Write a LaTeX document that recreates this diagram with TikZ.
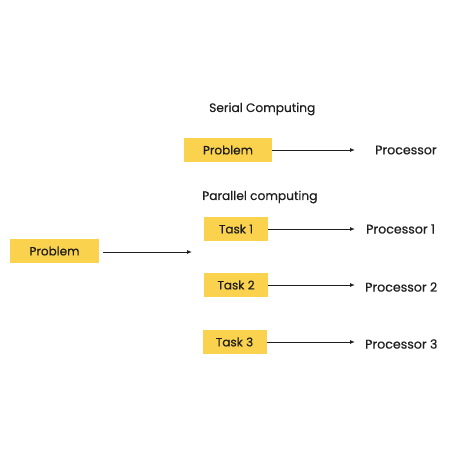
\documentclass[tikz,border=0pt]{standalone}
\usepackage{fontspec}
\setmainfont{Poppins}[FakeBold=0.5]
\usetikzlibrary{arrows.meta}
\definecolor{boxyellow}{HTML}{FBD24E}
\definecolor{inkgray}{HTML}{1E1E1E}
\tikzset{
    taskbox/.style={fill=boxyellow, text=inkgray, font=\fontsize{12}{14}\selectfont,
        minimum height=24pt, inner sep=0pt},
    proclabel/.style={text=inkgray, font=\fontsize{12.6}{14}\selectfont, anchor=west, inner sep=0pt},
    headlabel/.style={text=inkgray, font=\fontsize{12.2}{14}\selectfont, anchor=west, inner sep=0pt},
    flow/.style={-{Latex[length=5pt,width=4pt]}, line width=1pt, inkgray}
}
\begin{document}
\begin{tikzpicture}[x=1pt, y=-1pt]
    \useasboundingbox (0,0) rectangle (474,474);

    % Serial computing
    \node[headlabel] (serialhead) at (209,109) {Serial Computing};
    \node[taskbox, minimum width=88pt] (sprob) at (228,150) {Problem};
    \node[proclabel] (sproc) at (375,150) {Processor};
    \draw[flow, shorten >=20pt] (sprob) -- (sproc);

    % Parallel computing
    \node[headlabel] (parhead) at (202,197) {Parallel computing};
    \node[taskbox, minimum width=89pt] (pprob) at (54.5,251) {Problem};
    \coordinate (split) at (192,252);
    \draw[flow, shorten <=4pt] (pprob.east |- split) -- (split);

    \node[taskbox, minimum width=64pt] (task1) at (236,229) {Task 1};
    \node[taskbox, minimum width=64pt] (task2) at (236,285) {Task 2};
    \node[taskbox, minimum width=64pt] (task3) at (234.5,342) {Task 3};

    \node[proclabel] (proc1) at (366,229) {Processor 1};
    \node[proclabel] (proc2) at (365,287) {Processor 2};
    \node[proclabel] (proc3) at (365,344) {Processor 3};

    \draw[flow, shorten >=11pt] (task1) -- (proc1.west |- task1);
    \draw[flow, shorten >=10pt] (task2) -- (proc2.west |- task2);
    \draw[flow, shorten >=10pt] (task3) -- (proc3.west |- task3);
\end{tikzpicture}
\end{document}
